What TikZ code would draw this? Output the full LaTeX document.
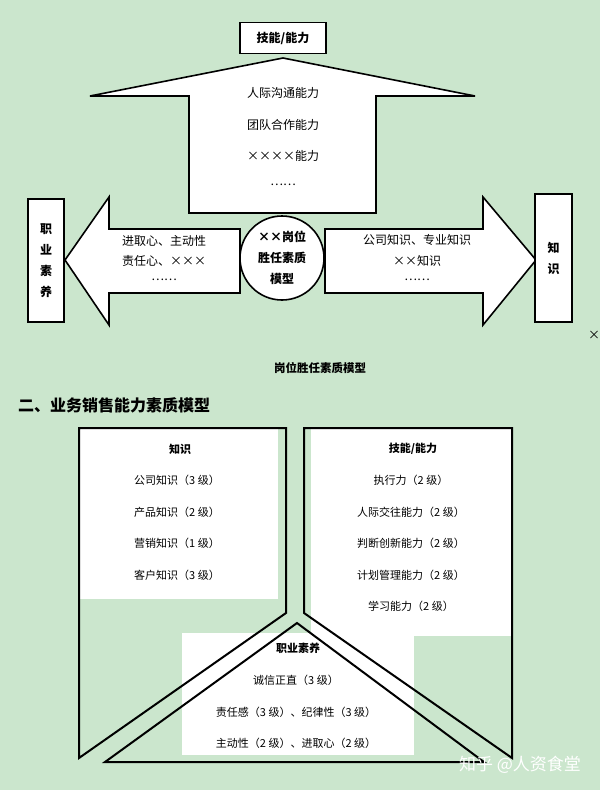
\documentclass[tikz,border=0pt]{standalone}
\usepackage{fontspec}
\setmainfont{Noto Sans CJK SC}
\usetikzlibrary{positioning}
\definecolor{eyegreen}{RGB}{203,230,205}

\begin{document}
\begin{tikzpicture}[x=1pt, y=-1pt,
  txt/.style={inner sep=0pt, font=\fontsize{12}{21}\selectfont, align=center},
  btxt/.style={inner sep=0pt, font=\fontsize{12}{21}\selectfont\bfseries, align=center},
  stxt/.style={inner sep=0pt, font=\fontsize{11}{13}\selectfont},
  blk/.style={draw, line width=1.6pt, fill=white, line join=miter},
  frame/.style={draw, line width=2pt, line join=miter}]
\fill[eyegreen] (0,0) rectangle (600,790);
\useasboundingbox (0,0) rectangle (600,790);

% upper model: three block arrows round the circle
\draw[blk] (283,58) -- (475,96) -- (376,96) -- (376,213) -- (189,213) -- (189,96) -- (90,96) -- cycle;
\draw[blk] (65,260) -- (109,197) -- (109,229) -- (240,229) -- (240,293) -- (109,293) -- (109,325) -- cycle;
\draw[blk] (536,260) -- (483,197) -- (483,229) -- (325,229) -- (325,293) -- (483,293) -- (483,325) -- cycle;
\node[blk, btxt, minimum width=86pt, minimum height=31pt] (skill) at (283,38) {技能/能力};
\node[blk, btxt, minimum width=36pt, minimum height=123pt] (qual) at (46,260.5) {职\\业\\素\\养};
\node[blk, btxt, minimum width=37pt, minimum height=128pt] (know) at (553.5,258) {知\\识};
\node[blk, btxt, circle, minimum size=84pt] (core) at (282,258) {××岗位\\胜任素质\\模型};

\node[txt] (s1) at (283,93) {人际沟通能力};
\node[txt] (s2) at (283,125) {团队合作能力};
\node[txt] (s3) at (283,156) {××××能力};
\node[txt] (s4) at (283,185) {……};
\node[txt] (q1) at (164,241) {进取心、主动性};
\node[txt] (q2) at (164,261) {责任心、×××};
\node[txt] (q3) at (164,280) {……};
\node[txt] (k1) at (417,240) {公司知识、专业知识};
\node[txt] (k2) at (417,261) {××知识};
\node[txt] (k3) at (417,280) {……};
\node[txt] (cross) at (594,335) {×};
\node[btxt, font=\fontsize{11.5}{13}\selectfont\bfseries] (cap) at (320,368) {岗位胜任素质模型};

% lower model
\node[inner sep=0pt, anchor=west, font=\fontsize{16}{18}\selectfont\bfseries] (head) at (18,405) {二、业务销售能力素质模型};
\fill[white] (79,428) rectangle (278,599);
\fill[white] (311,428) rectangle (511,636);
\fill[white] (182,633) rectangle (414,755);
\draw[frame] (79,428) -- (286,428) -- (286,613) -- (79,758) -- cycle;
\draw[frame] (304,428) -- (512,428) -- (512,758) -- (304,613) -- cycle;
\draw[frame] (297,623) -- (484,762) -- (105,762) -- cycle;

\node[stxt, font=\fontsize{11}{13}\selectfont\bfseries] (kt) at (180,449) {知识};
\node[stxt] (kl1) at (177,480) {公司知识（3 级）};
\node[stxt] (kl2) at (177,512) {产品知识（2 级）};
\node[stxt] (kl3) at (177,543) {营销知识（1 级）};
\node[stxt] (kl4) at (177,575) {客户知识（3 级）};

\node[stxt, font=\fontsize{11}{13}\selectfont\bfseries] (st) at (413,449) {技能/能力};
\node[stxt] (sl1) at (411,480) {执行力（2 级）};
\node[stxt] (sl2) at (411,512) {人际交往能力（2 级）};
\node[stxt] (sl3) at (411,543) {判断创新能力（2 级）};
\node[stxt] (sl4) at (411,575) {计划管理能力（2 级）};
\node[stxt] (sl5) at (411,606) {学习能力（2 级）};

\node[stxt, font=\fontsize{11}{13}\selectfont\bfseries] (qt) at (298,648) {职业素养};
\node[stxt] (ql1) at (296,680) {诚信正直（3 级）};
\node[stxt] (ql2) at (296,712) {责任感（3 级）、纪律性（3 级）};
\node[stxt] (ql3) at (296,743) {主动性（2 级）、进取心（2 级）};

\node[inner sep=0pt, text=white, font=\fontsize{17}{19}\selectfont] (mark) at (520,765) {知乎 @人资食堂};
\end{tikzpicture}
\end{document}
